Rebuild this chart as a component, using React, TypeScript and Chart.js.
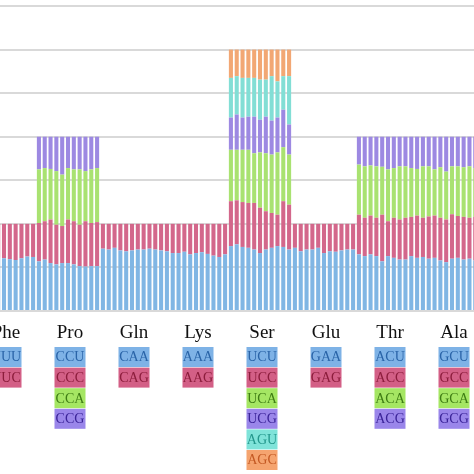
import { useEffect, useRef } from 'react';
import { Chart, registerables } from 'chart.js';

Chart.register(...registerables);

// amino acids, left to right (Phe is cut off by the left edge, Ala by the right edge)
const aminoAcids = ['Phe', 'Pro', 'Gln', 'Lys', 'Ser', 'Glu', 'Thr', 'Ala'];
const samplesPerGroup = 11;

const pheCodons = ['UUU', 'UUC'];
const proCodons = ['CCU', 'CCC', 'CCA', 'CCG'];
const glnCodons = ['CAA', 'CAG'];
const lysCodons = ['AAA', 'AAG'];
const serCodons = ['UCU', 'UCC', 'UCA', 'UCG', 'AGU', 'AGC'];
const gluCodons = ['GAA', 'GAG'];
const thrCodons = ['ACU', 'ACC', 'ACA', 'ACG'];
const alaCodons = ['GCU', 'GCC', 'GCA', 'GCG'];

// RSCU values, one row per codon, one value per sample
const pheValues = [
  [1.2, 1.18, 1.22, 1.19, 1.23, 1.21, 1.19, 1.17, 1.21, 1.25, 1.24],
  [0.8, 0.82, 0.78, 0.81, 0.77, 0.79, 0.81, 0.83, 0.79, 0.75, 0.76],
];
const proValues = [
  [1.14, 1.18, 1.1, 1.07, 1.1, 1.1, 1.07, 1.03, 1.02, 1.03, 1.03],
  [0.88, 0.88, 1.0, 0.91, 0.85, 1.0, 0.99, 0.95, 1.04, 0.99, 1.01],
  [1.23, 1.22, 1.16, 1.23, 1.18, 1.18, 1.19, 1.27, 1.15, 1.23, 1.24],
  [0.75, 0.72, 0.74, 0.79, 0.87, 0.72, 0.75, 0.75, 0.79, 0.75, 0.72],
];
const glnValues = [
  [1.43, 1.41, 1.45, 1.39, 1.37, 1.39, 1.41, 1.41, 1.43, 1.41, 1.39],
  [0.57, 0.59, 0.55, 0.61, 0.63, 0.61, 0.59, 0.59, 0.57, 0.59, 0.61],
];
const lysValues = [
  [1.37, 1.33, 1.33, 1.36, 1.3, 1.33, 1.35, 1.31, 1.27, 1.24, 1.3],
  [0.63, 0.67, 0.67, 0.64, 0.7, 0.67, 0.65, 0.69, 0.73, 0.76, 0.7],
];
const serValues = [
  [1.49, 1.53, 1.47, 1.45, 1.41, 1.33, 1.41, 1.45, 1.49, 1.47, 1.41],
  [1.03, 1.01, 1.03, 1.03, 1.07, 1.04, 0.88, 0.8, 0.72, 1.05, 1.03],
  [1.18, 1.16, 1.2, 1.22, 1.14, 1.27, 1.33, 1.34, 1.43, 1.24, 1.15],
  [0.74, 0.81, 0.74, 0.76, 0.84, 0.75, 0.84, 0.78, 0.8, 0.86, 0.69],
  [0.91, 0.88, 0.91, 0.89, 0.89, 0.92, 0.85, 1.02, 0.83, 0.77, 1.11],
  [0.65, 0.61, 0.65, 0.65, 0.65, 0.69, 0.69, 0.61, 0.73, 0.61, 0.61],
];
const gluValues = [
  [1.45, 1.37, 1.41, 1.41, 1.45, 1.33, 1.37, 1.36, 1.39, 1.41, 1.41],
  [0.55, 0.63, 0.59, 0.59, 0.55, 0.67, 0.63, 0.64, 0.61, 0.59, 0.59],
];
const thrValues = [
  [1.3, 1.26, 1.3, 1.26, 1.14, 1.26, 1.22, 1.18, 1.18, 1.26, 1.22],
  [0.91, 0.88, 0.89, 0.88, 1.07, 0.8, 0.92, 0.92, 0.96, 0.9, 0.97],
  [1.15, 1.18, 1.15, 1.18, 1.1, 1.19, 1.14, 1.22, 1.18, 1.12, 1.07],
  [0.64, 0.68, 0.66, 0.68, 0.69, 0.75, 0.72, 0.68, 0.68, 0.72, 0.74],
];
const alaValues = [
  [1.24, 1.2, 1.22, 1.16, 1.12, 1.2, 1.22, 1.18, 1.2, 1.16, 1.18],
  [0.9, 0.97, 0.97, 0.98, 0.98, 1.02, 0.96, 0.98, 0.94, 1.0, 0.96],
  [1.18, 1.15, 1.06, 1.16, 1.1, 1.1, 1.14, 1.14, 1.18, 1.12, 1.14],
  [0.68, 0.68, 0.75, 0.7, 0.8, 0.68, 0.68, 0.7, 0.68, 0.72, 0.72],
];

const groupCodons = [pheCodons, proCodons, glnCodons, lysCodons, serCodons, gluCodons, thrCodons, alaCodons];
const groupValues = [pheValues, proValues, glnValues, lysValues, serValues, gluValues, thrValues, alaValues];

// colour of the 1st..6th codon of each amino acid
const barColors = ['#80b6e4', '#d3678b', '#a9e271', '#9d89e2', '#82ded5', '#f2a774'];
const boxColors = ['#7eb2e6', '#d35f86', '#a5e663', '#9a86ea', '#7fe3d9', '#f5a46f'];
const textColors = ['#2a64a8', '#8c1d3c', '#3f7d14', '#3b2499', '#23978c', '#c45a24'];

const sampleLabels = aminoAcids.flatMap((aa) =>
  Array.from({ length: samplesPerGroup }, (_, i) => `${aa} ${i + 1}`)
);

const codonPlugin = {
  id: 'codonLabels',
  afterDraw(chart: Chart) {
    const { ctx, chartArea } = chart;
    const x = chart.scales.x;
    ctx.save();
    ctx.textAlign = 'center';
    ctx.textBaseline = 'middle';
    aminoAcids.forEach((aa, g) => {
      const first = g * samplesPerGroup;
      const last = first + samplesPerGroup - 1;
      const cx = (x.getPixelForValue(first) + x.getPixelForValue(last)) / 2 + 2;
      ctx.fillStyle = '#111';
      ctx.font = '19px "Liberation Serif", serif';
      ctx.fillText(aa, cx, chartArea.bottom + 22);
      const boxW = 31;
      const boxH = 20.6;
      ctx.font = '14px "Liberation Serif", serif';
      groupCodons[g].forEach((codon, c) => {
        const top = chartArea.bottom + 36 + c * boxH;
        ctx.fillStyle = boxColors[c];
        ctx.fillRect(cx - boxW / 2, top, boxW, boxH - 0.6);
        ctx.fillStyle = textColors[c];
        ctx.fillText(codon, cx, top + boxH / 2 + 0.5);
      });
    });
    ctx.restore();
  },
};

export default function App() {
  const canvasRef = useRef<HTMLCanvasElement | null>(null);
  const chartRef = useRef<Chart | null>(null);

  useEffect(() => {
    const ctx = canvasRef.current?.getContext('2d');
    if (!ctx) return;

    if (chartRef.current) {
      chartRef.current.destroy();
    }

    const datasets = barColors.map((color, pos) => ({
      label: `codon ${pos + 1}`,
      data: groupValues.flatMap((rows) => rows[pos] ?? Array(samplesPerGroup).fill(0)),
      backgroundColor: color,
      borderWidth: 0,
      barPercentage: 0.7,
      categoryPercentage: 1,
    }));

    chartRef.current = new Chart(ctx, {
      type: 'bar',
      data: { labels: sampleLabels, datasets },
      options: {
        responsive: false,
        maintainAspectRatio: false,
        animation: false,
        layout: { padding: { top: 6, bottom: 163, left: 0, right: 0 } },
        plugins: {
          legend: { display: false },
          tooltip: { enabled: false },
        },
        scales: {
          x: {
            stacked: true,
            display: false,
          },
          y: {
            stacked: true,
            min: 0,
            max: 7,
            z: 1,
            afterFit: (scale: any) => {
              scale.width = 0;
            },
            ticks: { display: false, stepSize: 1 },
            border: { display: false },
            grid: {
              color: 'rgba(130,130,130,0.3)',
              lineWidth: 2,
              drawTicks: false,
            },
          },
        },
      },
      plugins: [codonPlugin],
    });

    return () => {
      if (chartRef.current) {
        chartRef.current.destroy();
        chartRef.current = null;
      }
    };
  }, []);

  return (
    <div
      style={{
        position: 'fixed',
        left: 0,
        top: 0,
        width: 474,
        height: 474,
        overflow: 'hidden',
        background: '#fff',
      }}
    >
      <canvas
        ref={canvasRef}
        width={512}
        height={474}
        style={{ position: 'absolute', left: -28, top: 0, width: 512, height: 474 }}
      ></canvas>
    </div>
  );
}
